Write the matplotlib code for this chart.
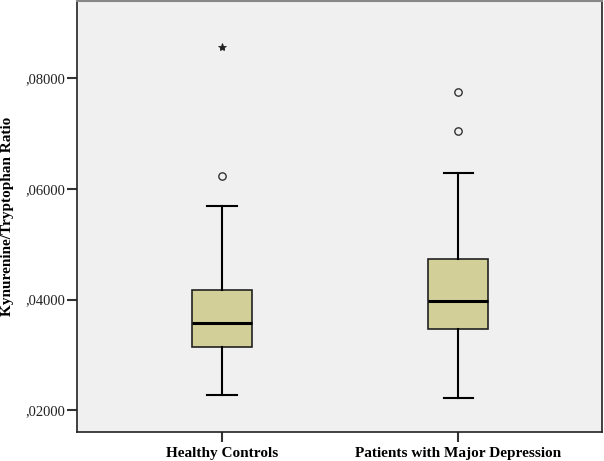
import matplotlib
matplotlib.use("Agg")
import matplotlib.pyplot as plt
from matplotlib.ticker import FuncFormatter

# values
groups = ["Healthy Controls", "Patients with Major Depression"]
whisker_low = [0.02273, 0.02224]
q1 = [0.03139, 0.03469]
median = [0.03572, 0.03975]
q3 = [0.04168, 0.04733]
whisker_high = [0.05689, 0.06285]
outliers = [[0.06244], [0.07056, 0.07755]]
extremes = [[0.08572], []]

yticks = [0.02, 0.04, 0.06, 0.08]

box_color = "#D3CF98"
serif = ["Liberation Serif", "DejaVu Serif"]

fig = plt.figure(figsize=(6.04, 4.61), dpi=100)
ax = fig.add_axes([0.128, 0.0623, 0.8687, 0.9357])
ax.set_facecolor("#F0F0F0")

stats = []
for i in range(len(groups)):
    stats.append({
        "whislo": whisker_low[i], "q1": q1[i], "med": median[i],
        "q3": q3[i], "whishi": whisker_high[i], "fliers": [],
    })

pos = list(range(1, len(groups) + 1))
ax.bxp(stats, positions=pos, widths=0.253, patch_artist=True,
       showfliers=False, capwidths=0.123,
       boxprops=dict(facecolor=box_color, edgecolor="#222222", linewidth=1.2),
       medianprops=dict(color="black", linewidth=2.2),
       whiskerprops=dict(color="black", linewidth=1.5),
       capprops=dict(color="black", linewidth=1.5))

for p, vals in zip(pos, outliers):
    ax.plot([p] * len(vals), vals, "o", ms=5.3, mfc="none", mec="#333333", mew=1)
for p, vals in zip(pos, extremes):
    ax.plot([p] * len(vals), vals, marker="*", ls="none", ms=6,
            color="#222222", mew=0.6)

ax.set_xlim(0.387, 2.61)
ax.set_ylim(0.01599, 0.09403)
ax.set_yticks(yticks)
ax.yaxis.set_major_formatter(FuncFormatter(lambda v, p: ("%.5f" % v)[1:].replace(".", ",")))
ax.set_xticks(pos)
ax.set_xticklabels(groups, fontfamily=serif, fontweight="bold", fontsize=11)
for lab in ax.get_yticklabels():
    lab.set_fontfamily(serif)
    lab.set_fontsize(10.5)
    lab.set_color("#222222")

ax.tick_params(axis="both", direction="out", length=7.5, width=1.5, color="#333333")
ax.tick_params(axis="y", pad=1)
ax.tick_params(axis="x", pad=3)

for s in ["left", "bottom", "right"]:
    ax.spines[s].set_color("#222222")
    ax.spines[s].set_linewidth(1.2)
ax.spines["top"].set_color("#888888")
ax.spines["top"].set_linewidth(1.5)

ax.set_ylabel("Kynurenine/Tryptophan Ratio", fontfamily=serif, fontweight="bold",
              fontsize=11)
ax.yaxis.set_label_coords(-0.1216, 0.5)

fig.savefig("out.png", dpi=100)
